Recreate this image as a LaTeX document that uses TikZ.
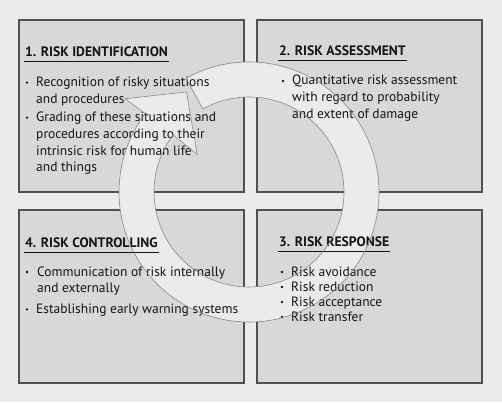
\documentclass[tikz,border=0pt]{standalone}
\usepackage{fontspec}
\setmainfont{PT Sans}
\usepackage{tikz}
\usetikzlibrary{positioning}
\definecolor{bggray}{HTML}{EBEBEB}
\definecolor{boxgray}{HTML}{D8D8D8}
\definecolor{edgegray}{HTML}{505050}
\definecolor{ringline}{HTML}{888888}
\definecolor{inkgray}{HTML}{141414}

\begin{document}
\begin{tikzpicture}[x=1pt, y=1pt,
    panel/.style={draw=edgegray, line width=1.5pt, fill=boxgray},
    headtext/.style={anchor=base west, inner sep=0pt, text=inkgray, font=\fontsize{13.7}{16}\selectfont\bfseries},
    itemtext/.style={anchor=base west, inner sep=0pt, align=left, text=inkgray, font=\fontsize{13.5}{16.7}\selectfont},
    headrule/.style={draw=inkgray, line width=1pt},
    bulletdot/.style={fill=inkgray}]

    % Background
    \fill[bggray] (0,0) rectangle (502,402);

    % Panels
    \draw[panel] (19,210) rectangle (244,382);
    \draw[panel] (257,210) rectangle (482,382);
    \draw[panel] (19,19) rectangle (244,192);
    \draw[panel] (257,19) rectangle (482,192);

    % Cycle arrow, filled first
    \coordinate (c) at (249,210);
    \path[fill=bggray, save path=\cyclepath]
        ([shift={(119:130)}]c) arc[start angle=119, end angle=-217, radius=130]
        -- ([shift={(143:155)}]c) -- ([shift={(122:118)}]c) -- ([shift={(144:64)}]c)
        -- ([shift={(143:95)}]c) arc[start angle=-217, end angle=119, radius=95] -- cycle;

    % 1. Risk identification (base = last line)
    \node[headtext] (h1) at (25,345) {1. RISK IDENTIFICATION};
    \draw[headrule] ([shift={(-1,-5)}]h1.base west) -- ([shift={(1,-5)}]h1.base east);
    \node[itemtext] (i11) at (36,298.6) {Recognition of risky situations\\and procedures};
    \node[itemtext] (i12) at (36,230.2) {Grading of these situations and\\procedures according to their\\intrinsic risk for human life\\and things};

    % 2. Risk assessment
    \node[headtext] (h2) at (279,346.3) {2. RISK ASSESSMENT};
    \draw[headrule] ([shift={(-1,-5)}]h2.base west) -- ([shift={(1,-5)}]h2.base east);
    \node[itemtext] (i21) at (292,283.6) {Quantitative risk assessment\\with regard to probability\\and extent of damage};

    % 3. Risk response
    \node[headtext] (h3) at (279,155.3) {3. RISK RESPONSE};
    \draw[headrule] ([shift={(-1,-5)}]h3.base west) -- ([shift={(1,-5)}]h3.base east);
    \node[itemtext] (i31) at (291,126) {Risk avoidance};
    \node[itemtext] (i32) at (291,111) {Risk reduction};
    \node[itemtext] (i33) at (291,96) {Risk acceptance};
    \node[itemtext] (i34) at (291,81) {Risk transfer};

    % 4. Risk controlling
    \node[headtext] (h4) at (25,154.3) {4. RISK CONTROLLING};
    \draw[headrule] ([shift={(-1,-5)}]h4.base west) -- ([shift={(1,-5)}]h4.base east);
    \node[itemtext] (i41) at (37,109.3) {Communication of risk internally\\and externally};
    \node[itemtext] (i42) at (36,88.7) {Establishing early warning systems};

    % Bullets, on the first line of each item
    \fill[bulletdot] ([shift={(-9,20.7)}]i11.base west) circle (1.3);
    \fill[bulletdot] ([shift={(-9,54.1)}]i12.base west) circle (1.3);
    \fill[bulletdot] ([shift={(-9,37.4)}]i21.base west) circle (1.3);
    \fill[bulletdot] ([shift={(-9,4)}]i31.base west) circle (1.3);
    \fill[bulletdot] ([shift={(-9,4)}]i32.base west) circle (1.3);
    \fill[bulletdot] ([shift={(-9,4)}]i33.base west) circle (1.3);
    \fill[bulletdot] ([shift={(-9,4)}]i34.base west) circle (1.3);
    \fill[bulletdot] ([shift={(-10,20.7)}]i41.base west) circle (1.3);
    \fill[bulletdot] ([shift={(-9,4)}]i42.base west) circle (1.3);

    % Cycle arrow outline on top
    \path[draw=ringline, line width=0.6pt, use path=\cyclepath];

\end{tikzpicture}
\end{document}
